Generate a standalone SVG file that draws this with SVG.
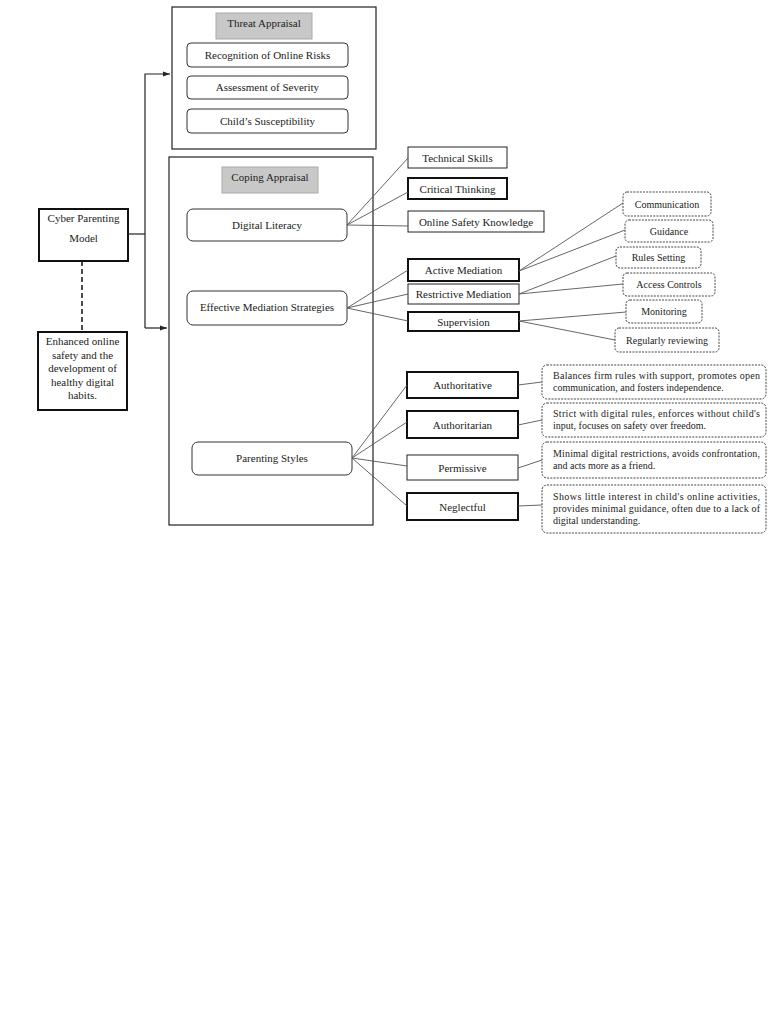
<svg xmlns="http://www.w3.org/2000/svg" width="768" height="1024" viewBox="0 0 768 1024">
<style>
text{font-family:"Liberation Serif","Times New Roman",serif;font-size:11px;fill:#222;}
.c{text-anchor:middle;}
.d{font-size:10px;}
.cont{fill:#fff;stroke:#222;stroke-width:1.2;}
.lab{fill:#c8c8c8;stroke:#aaa;stroke-width:1;}
.rr{fill:#fff;stroke:#333;stroke-width:1;}
.bx{fill:#fff;stroke:#222;stroke-width:1;}
.bxt{fill:#fff;stroke:#111;stroke-width:2;}
.ds{fill:#fff;stroke:#444;stroke-width:1;stroke-dasharray:2 1.2;}
.ln{fill:none;stroke:#555;stroke-width:0.9;}
.ar{fill:none;stroke:#222;stroke-width:1.2;}
</style>
<defs>
<marker id="ah" markerWidth="8" markerHeight="8" refX="7" refY="4" orient="auto" markerUnits="userSpaceOnUse">
<path d="M0,1.5 L7,4 L0,6.5 Z" fill="#222"/>
</marker>
</defs>
<rect width="768" height="1024" fill="#fff"/>

<g id="threat">
<rect class="cont" x="172" y="7" width="204" height="142"/>
<rect class="lab" x="216" y="13" width="96" height="26"/>
<text class="c" x="264" y="27">Threat Appraisal</text>
</g>
<g id="recognition"><rect class="rr" x="187" y="43" width="161" height="24" rx="4"/><text class="c" x="267.5" y="58.5">Recognition of Online Risks</text></g>
<g id="severity"><rect class="rr" x="187" y="76" width="161" height="23" rx="4"/><text class="c" x="267.5" y="91">Assessment of Severity</text></g>
<g id="susceptibility"><rect class="rr" x="187" y="109" width="161" height="24" rx="4"/><text class="c" x="267.5" y="124.5">Child’s Susceptibility</text></g>

<g id="coping">
<rect class="cont" x="169" y="157" width="204" height="368"/>
<rect class="lab" x="222" y="167" width="96" height="26"/>
<text class="c" x="270" y="181">Coping Appraisal</text>
</g>
<g id="digital"><rect class="rr" x="187" y="209" width="160" height="32" rx="6"/><text class="c" x="267" y="228.5">Digital Literacy</text></g>
<g id="mediation"><rect class="rr" x="187" y="291" width="160" height="34" rx="6"/><text class="c" x="267" y="311">Effective Mediation Strategies</text></g>
<g id="styles"><rect class="rr" x="192" y="442" width="160" height="33" rx="6"/><text class="c" x="272" y="461.5">Parenting Styles</text></g>

<g id="model"><rect class="bxt" x="39" y="209" width="89" height="52"/><text class="c" x="83.5" y="222">Cyber Parenting</text><text class="c" x="83.5" y="242">Model</text></g>
<g id="outcome"><rect class="bxt" x="38" y="332" width="89" height="78"/>
<text class="c" x="82.5" y="345">Enhanced online</text>
<text class="c" x="82.5" y="358.5">safety and the</text>
<text class="c" x="82.5" y="372">development of</text>
<text class="c" x="82.5" y="385.5">healthy digital</text>
<text class="c" x="82.5" y="399">habits.</text>
</g>

<g id="technical"><rect class="bx" x="408" y="147" width="99" height="21"/><text class="c" x="457.5" y="161.5">Technical Skills</text></g>
<g id="critical"><rect class="bxt" x="408" y="178" width="99" height="21"/><text class="c" x="457.5" y="192.5">Critical Thinking</text></g>
<g id="safety"><rect class="bx" x="408" y="211" width="136" height="21"/><text class="c" x="476" y="225.5">Online Safety Knowledge</text></g>

<g id="active"><rect class="bxt" x="408" y="259" width="111" height="22"/><text class="c" x="463.5" y="274">Active Mediation</text></g>
<g id="restrictive"><rect class="bx" x="408" y="284" width="111" height="20"/><text class="c" x="463.5" y="298">Restrictive Mediation</text></g>
<g id="supervision"><rect class="bxt" x="408" y="312" width="111" height="19"/><text class="c" x="463.5" y="325.5">Supervision</text></g>

<g id="communication"><rect class="ds" x="623" y="192" width="88" height="24" rx="4"/><text class="c d" x="667" y="207.5">Communication</text></g>
<g id="guidance"><rect class="ds" x="625" y="220" width="88" height="22" rx="4"/><text class="c d" x="669" y="234.5">Guidance</text></g>
<g id="rules"><rect class="ds" x="616" y="247" width="85" height="21" rx="4"/><text class="c d" x="658.5" y="261">Rules Setting</text></g>
<g id="access"><rect class="ds" x="623" y="273" width="92" height="23" rx="4"/><text class="c d" x="669" y="288">Access Controls</text></g>
<g id="monitoring"><rect class="ds" x="626" y="300" width="76" height="23" rx="4"/><text class="c d" x="664" y="315">Monitoring</text></g>
<g id="reviewing"><rect class="ds" x="615" y="328" width="104" height="24" rx="4"/><text class="c d" x="667" y="344">Regularly reviewing</text></g>

<g id="authoritative"><rect class="bxt" x="407" y="372" width="111" height="26"/><text class="c" x="462.5" y="389">Authoritative</text></g>
<g id="authoritarian"><rect class="bxt" x="407" y="411" width="111" height="27"/><text class="c" x="462.5" y="428.5">Authoritarian</text></g>
<g id="permissive"><rect class="bx" x="407" y="455" width="111" height="25"/><text class="c" x="462.5" y="471.5">Permissive</text></g>
<g id="neglectful"><rect class="bxt" x="407" y="493" width="111" height="27"/><text class="c" x="462.5" y="510.5">Neglectful</text></g>

<g id="desc-authoritative"><rect class="ds" x="542" y="365" width="224" height="34" rx="5"/>
<text class="d" x="553" y="379" textLength="207" lengthAdjust="spacing">Balances firm rules with support, promotes open</text>
<text class="d" x="553" y="391">communication, and fosters independence.</text></g>
<g id="desc-authoritarian"><rect class="ds" x="542" y="403" width="224" height="34" rx="5"/>
<text class="d" x="553" y="417" textLength="207" lengthAdjust="spacing">Strict with digital rules, enforces without child's</text>
<text class="d" x="553" y="429">input, focuses on safety over freedom.</text></g>
<g id="desc-permissive"><rect class="ds" x="542" y="442" width="224" height="36" rx="5"/>
<text class="d" x="553" y="456.5" textLength="207" lengthAdjust="spacing">Minimal digital restrictions, avoids confrontation,</text>
<text class="d" x="553" y="469">and acts more as a friend.</text></g>
<g id="desc-neglectful"><rect class="ds" x="542" y="485" width="224" height="48" rx="5"/>
<text class="d" x="553" y="499.5" textLength="207" lengthAdjust="spacing">Shows little interest in child's online activities,</text>
<text class="d" x="553" y="511.5" textLength="207" lengthAdjust="spacing">provides minimal guidance, often due to a lack of</text>
<text class="d" x="553" y="523.5">digital understanding.</text></g>

<g id="connectors">
<path class="ar" d="M128,234 H145"/>
<path class="ar" d="M145,328 V74 H170" marker-end="url(#ah)"/>
<path class="ar" d="M145,328 H167" marker-end="url(#ah)"/>
<path d="M82,261 V332" fill="none" stroke="#111" stroke-width="1.5" stroke-dasharray="5 3"/>
<path class="ln" d="M347,225 L408,158 M347,225 L408,192 M347,225 L408,226"/>
<path class="ln" d="M347,308 L408,270 M347,308 L408,294 M347,308 L408,321"/>
<path class="ln" d="M519,271 L623,203 M519,271 L625,230"/>
<path class="ln" d="M519,294 L616,256 M519,294 L623,284"/>
<path class="ln" d="M519,321 L626,312 M519,321 L615,340"/>
<path class="ln" d="M352,458 L407,385 M352,458 L407,422 M352,458 L407,466 M352,458 L407,506"/>
<path class="ln" d="M518,385 L542,382 M518,425 L542,420 M518,468 L542,460 M518,506 L542,505"/>
</g>
</svg>
